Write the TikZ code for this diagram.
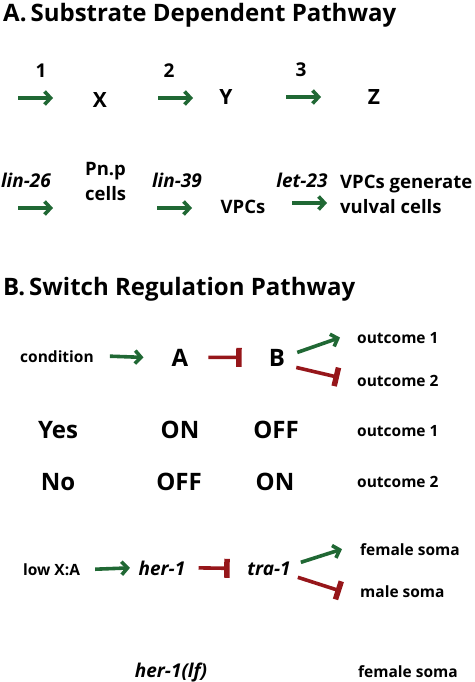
\documentclass[tikz,border=0pt]{standalone}
\usepackage{fontspec}
\setmainfont{Open Sans}
\usepackage{xcolor}
\usetikzlibrary{arrows.meta, positioning}
\definecolor{actgreen}{RGB}{32,104,52}
\definecolor{inhred}{RGB}{150,22,26}

\begin{document}
\begin{tikzpicture}[
    x=1pt, y=-1pt,
    txt/.style={inner sep=0pt, font=\bfseries\fontsize{18.5}{24.5}\selectfont},
    num/.style={inner sep=0pt, anchor=base, font=\bfseries\fontsize{19}{24}\selectfont},
    letter/.style={inner sep=0pt, anchor=base, font=\bfseries\fontsize{21}{24}\selectfont},
    big/.style={inner sep=0pt, anchor=base, font=\bfseries\fontsize{24}{28}\selectfont},
    small/.style={inner sep=0pt, anchor=base west, font=\bfseries\fontsize{15.5}{18}\selectfont},
    gene/.style={inner sep=0pt, anchor=base, font=\bfseries\itshape\fontsize{19}{24}\selectfont},
    head/.style={inner sep=0pt, anchor=base west, font=\bfseries\fontsize{24}{27}\selectfont},
    act/.style={draw=actgreen, line width=3.6pt, -{Straight Barb[length=6pt,width=13pt]}},
    inh/.style={draw=inhred, line width=3.6pt, -{Bar[width=19pt,line width=5.5pt]}}
]
    \useasboundingbox (0,0) rectangle (474,682);

    % A. Substrate Dependent Pathway
    \node [head] (tA) at (3,22) {A.\,Substrate Dependent Pathway};

    \node [num] (n1) at (41,78) {1};
    \node [num] (n2) at (169,78) {2};
    \node [num] (n3) at (301,77) {3};
    \node [letter] (nX) at (100,108) {X};
    \node [letter] (nY) at (226,105) {Y};
    \node [letter] (nZ) at (374,105) {Z};

    \coordinate (a1) at (18,98);
    \coordinate (a2) at (158,98);
    \coordinate (a3) at (286,97);
    \draw [act] (a1) -- ++(35,0);
    \draw [act] (a2) -- ++(35,0);
    \draw [act] (a3) -- ++(35,0);

    \node [gene] (lin26) at (26,187) {lin-26};
    \node [txt, anchor=base west, align=left] (pnp) at (85,200) {Pn.p\\cells};
    \node [gene] (lin39) at (177,187) {lin-39};
    \node [txt, anchor=base] (vpc) at (243,213) {VPCs};
    \node [gene] (let23) at (302,187) {let-23};
    \node [txt, anchor=base west, align=left] (vgen) at (340,213) {VPCs generate\\vulval cells};

    \coordinate (b1) at (18,208);
    \coordinate (b2) at (157,208);
    \coordinate (b3) at (292,203);
    \draw [act] (b1) -- ++(35,0);
    \draw [act] (b2) -- ++(35,0);
    \draw [act] (b3) -- ++(35,0);

    % B. Switch Regulation Pathway
    \node [head] (tB) at (3,295) {B.\,Switch Regulation Pathway};

    \node [small] (cond) at (20,362) {condition};
    \node [big] (nA) at (180,366) {A};
    \node [big] (nB) at (277,366) {B};
    \node [small] (out1) at (357,343) {outcome 1};
    \node [small] (out2) at (357,386) {outcome 2};

    \draw [act] ([xshift=16]cond.east) -- ([xshift=-28]nA.west);
    \draw [inh] ([xshift=20]nA.east) -- ([xshift=-27]nB.west);
    \draw [act] ([shift={(12,-5)}]nB.east) -- ([xshift=-17]out1.west);
    \draw [inh] ([shift={(11,10)}]nB.east) -- ([shift={(-18,-3)}]out2.west);

    \node [big] (yes) at (58,438) {Yes};
    \node [big] (on1) at (180,438) {ON};
    \node [big] (off1) at (276,438) {OFF};
    \node [small] (out1b) at (357,436) {outcome 1};

    \node [big] (no) at (58,490) {No};
    \node [big] (off2) at (179,490) {OFF};
    \node [big] (on2) at (275,490) {ON};
    \node [small] (out2b) at (357,487) {outcome 2};

    \node [small] (lowxa) at (23,575) {low X:A};
    \node [gene] (her1) at (162,575) {her-1};
    \node [gene] (tra1) at (269,575) {tra-1};
    \node [small] (fem) at (360,555) {female soma};
    \node [small] (male) at (360,597) {male soma};

    \draw [act] ([xshift=15]lowxa.east) -- ([xshift=-8.5]her1.west);
    \draw [inh] ([xshift=13]her1.east) -- ([xshift=-17.5]tra1.west);
    \draw [act] ([shift={(10,-6)}]tra1.east) -- ([xshift=-18]fem.west);
    \draw [inh] ([shift={(7,9)}]tra1.east) -- ([xshift=-19]male.west);

    \node [gene] (herlf) at (171,677) {her-1(lf)};
    \node [small] (femlf) at (358,677) {female soma};

\end{tikzpicture}
\end{document}
